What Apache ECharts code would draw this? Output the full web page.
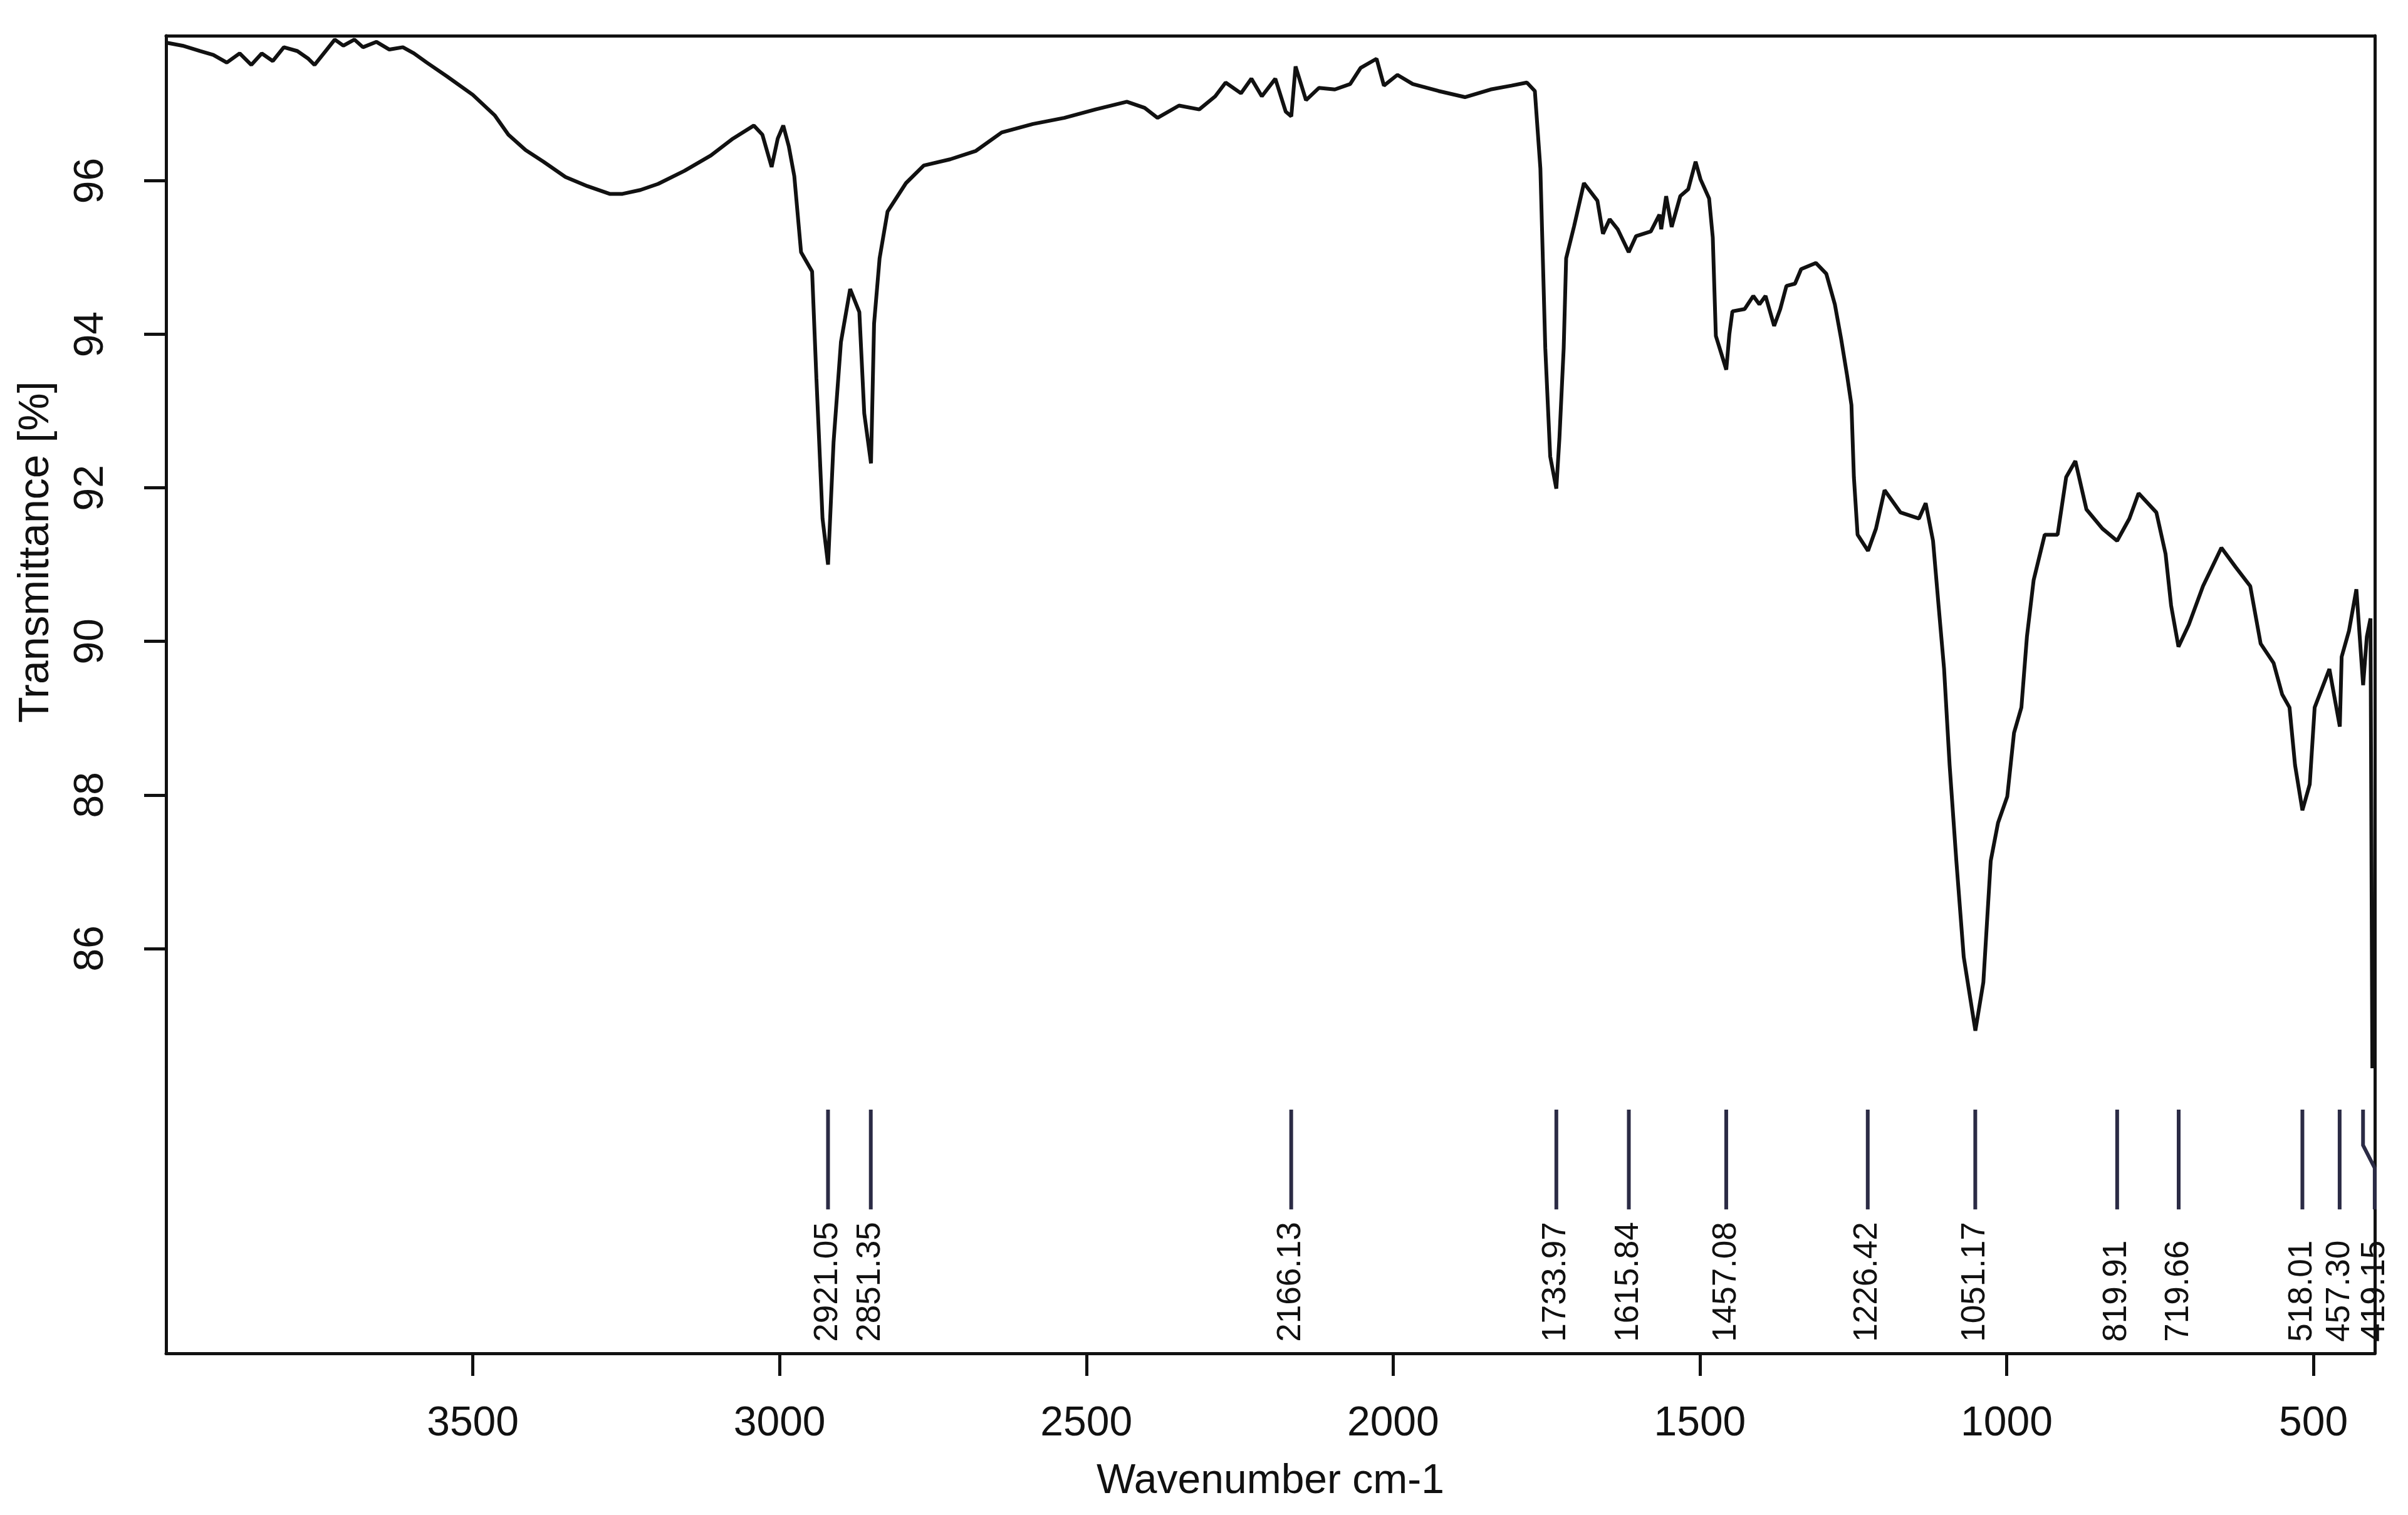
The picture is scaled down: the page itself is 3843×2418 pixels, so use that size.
<!DOCTYPE html>
<html>
<head>
<meta charset="utf-8">
<script src="https://cdn.jsdelivr.net/npm/echarts@6/dist/echarts.min.js"></script>
<style>
html,body{margin:0;padding:0;background:#fff;}
#chart{width:3843px;height:2418px;}
</style>
</head>
<body>
<div id="chart"></div>
<script>
const wavenumber = [4000,3973,3944,3923,3901,3880,3861,3844,3826,3808,3786,3768,3758,3740,3725,3711,3693,3679,3657,3636,3614,3596,3575,3542,3500,3464,3442,3414,3385,3349,3313,3277,3256,3227,3198,3155,3112,3076,3042,3028,3013,3003,2994,2985,2976,2965,2947,2940,2930,2921,2912,2900,2885,2870,2862,2851,2846,2837,2824,2794,2765,2722,2680,2638,2587,2536,2485,2434,2405,2384,2349,2316,2290,2273,2248,2231,2214,2192,2175,2166,2159,2142,2121,2095,2070,2053,2027,2015,1993,1968,1926,1883,1841,1807,1782,1769,1760,1752,1744,1734,1729,1722,1718,1705,1689,1667,1658,1647,1634,1616,1604,1580,1566,1563,1555,1546,1532,1519,1507,1499,1485,1479,1474,1457,1452,1447,1427,1413,1403,1393,1379,1369,1359,1345,1335,1311,1294,1280,1270,1260,1253,1249,1243,1226,1213,1199,1173,1143,1132,1120,1111,1102,1093,1082,1070,1051,1038,1026,1014,999,988,976,967,956,938,917,903,888,870,844,820,800,785,756,741,732,720,703,680,650,627,603,586,565,551,539,530,518,506,498,486,474,457,454,442,430,419,413,407,404];
const transmittance = [97.80,97.76,97.69,97.64,97.54,97.66,97.51,97.66,97.56,97.74,97.69,97.59,97.51,97.69,97.84,97.76,97.84,97.74,97.81,97.71,97.74,97.66,97.54,97.36,97.12,96.85,96.60,96.40,96.25,96.05,95.93,95.83,95.83,95.88,95.96,96.13,96.33,96.55,96.72,96.60,96.18,96.55,96.72,96.45,96.06,95.07,94.82,93.43,91.60,91.00,92.60,93.90,94.59,94.29,92.97,92.32,94.14,94.99,95.60,95.97,96.20,96.28,96.39,96.63,96.74,96.82,96.93,97.03,96.95,96.82,96.98,96.93,97.10,97.28,97.14,97.33,97.10,97.33,96.90,96.84,97.49,97.05,97.21,97.19,97.26,97.47,97.59,97.24,97.38,97.26,97.17,97.09,97.19,97.24,97.28,97.17,96.16,93.82,92.41,91.99,92.64,93.82,94.99,95.41,95.97,95.74,95.31,95.50,95.37,95.07,95.28,95.34,95.56,95.37,95.80,95.40,95.80,95.89,96.25,96.02,95.77,95.26,93.98,93.54,94.00,94.30,94.33,94.50,94.39,94.50,94.11,94.33,94.63,94.66,94.85,94.93,94.79,94.39,93.95,93.46,93.08,92.14,91.39,91.18,91.47,91.97,91.68,91.60,91.80,91.31,90.47,89.64,88.39,87.14,85.89,84.93,85.56,87.14,87.64,87.98,88.81,89.14,90.06,90.80,91.39,91.39,92.14,92.35,91.72,91.47,91.31,91.60,91.93,91.68,91.14,90.47,89.93,90.22,90.72,91.22,90.97,90.72,89.97,89.72,89.31,89.14,88.39,87.80,88.14,89.14,89.39,89.64,88.89,89.80,90.14,90.68,89.43,90.06,90.30,84.44];
const peakPositions = [2921.05,2851.35,2166.13,1733.97,1615.84,1457.08,1226.42,1051.17,819.91,719.66,518.01,457.30,419.15];
const peakLabels = ['2921.05','2851.35','2166.13','1733.97','1615.84','1457.08','1226.42','1051.17','819.91','719.66','518.01','457.30','419.15'];
const xTicks = [3500,3000,2500,2000,1500,1000,500];
const yTicks = [86,88,90,92,94,96];

const FONT = '"Liberation Sans", Arial, sans-serif';
const AX = '#111';
const chart = echarts.init(document.getElementById('chart'), null, {renderer:'canvas'});

const spectrum = wavenumber.map((w, i) => [w, transmittance[i]]);

function frameAxis(extra) {
  return Object.assign({
    type: 'value',
    axisLine: {show: true, onZero: false, lineStyle: {color: AX, width: 5}},
    axisTick: {show: false},
    axisLabel: {show: false},
    splitLine: {show: false}
  }, extra);
}

const MIN_GAP = 56;
function renderPeak(params, api) {
  const i = params.dataIndex;
  const xs = peakPositions.map(p => api.coord([p, 0])[0]);
  const lx = [];
  for (let k = 0; k <= i; k++) {
    lx[k] = k === 0 ? xs[0] : Math.max(xs[k], lx[k - 1] + MIN_GAP);
  }
  const x = xs[i], l = lx[i];
  const yTop = api.coord([0, 0.855])[1];
  const yBend1 = api.coord([0, 0.73])[1];
  const yBend2 = api.coord([0, 0.65])[1];
  const yBot = api.coord([0, 0.505])[1];
  const yLab = api.coord([0, 0.04])[1];
  const pts = Math.abs(l - x) < 0.5
    ? [[x, yTop], [x, yBot]]
    : [[x, yTop], [x, yBend1], [l, yBend2], [l, yBot]];
  return {
    type: 'group',
    children: [
      {type: 'polyline', shape: {points: pts}, style: {stroke: '#2b2b45', lineWidth: 6, fill: null}},
      {type: 'text', x: l, y: yLab, rotation: Math.PI / 2,
       style: {text: peakLabels[i], fill: '#111', fontSize: 53, fontFamily: FONT, align: 'left', verticalAlign: 'middle'}}
    ]
  };
}

const plain = v => String(v);

const option = {
  animation: false,
  backgroundColor: '#fff',
  grid: [
    {left: 265, right: 53, top: 57, height: 1648, show: false, containLabel: false, outerBoundsMode: 'none'},
    {left: 265, right: 53, top: 1705, height: 455, show: false, containLabel: false, outerBoundsMode: 'none'}
  ],
  xAxis: [
    frameAxis({gridIndex: 0, min: 400, max: 4000, inverse: true, position: 'top'}),
    frameAxis({
      gridIndex: 1, min: 400, max: 4000, inverse: true, position: 'bottom',
      axisTick: {show: true, inside: false, length: 36, customValues: xTicks, lineStyle: {color: AX, width: 5}},
      axisLabel: {show: true, customValues: xTicks, formatter: plain, fontSize: 66, color: '#111', fontFamily: FONT, margin: 80},
      name: 'Wavenumber cm-1', nameLocation: 'middle', nameGap: 172,
      nameTextStyle: {fontSize: 66, color: '#111', fontFamily: FONT}
    })
  ],
  yAxis: [
    frameAxis({
      gridIndex: 0, min: 84.44, max: 97.89, position: 'left',
      axisTick: {show: true, inside: false, length: 35, customValues: yTicks, lineStyle: {color: AX, width: 5}},
      axisLabel: {show: true, customValues: yTicks, formatter: plain, rotate: 90, fontSize: 66, color: '#111', fontFamily: FONT, margin: 86},
      name: 'Transmittance [%]', nameLocation: 'middle', nameGap: 173,
      nameTextStyle: {fontSize: 68, color: '#111', fontFamily: FONT}
    }),
    frameAxis({gridIndex: 0, min: 84.44, max: 97.89, position: 'right'}),
    frameAxis({gridIndex: 1, min: 0, max: 1, position: 'left'}),
    frameAxis({gridIndex: 1, min: 0, max: 1, position: 'right'})
  ],
  series: [
    {
      type: 'line', xAxisIndex: 0, yAxisIndex: 0, data: spectrum,
      symbol: 'none', showSymbol: false, smooth: false,
      lineStyle: {color: '#111', width: 6}
    },
    {
      type: 'custom', xAxisIndex: 1, yAxisIndex: 2,
      data: peakPositions.map(p => [p]), encode: {x: 0},
      renderItem: renderPeak
    }
  ]
};
chart.setOption(option);
</script>
</body>
</html>
